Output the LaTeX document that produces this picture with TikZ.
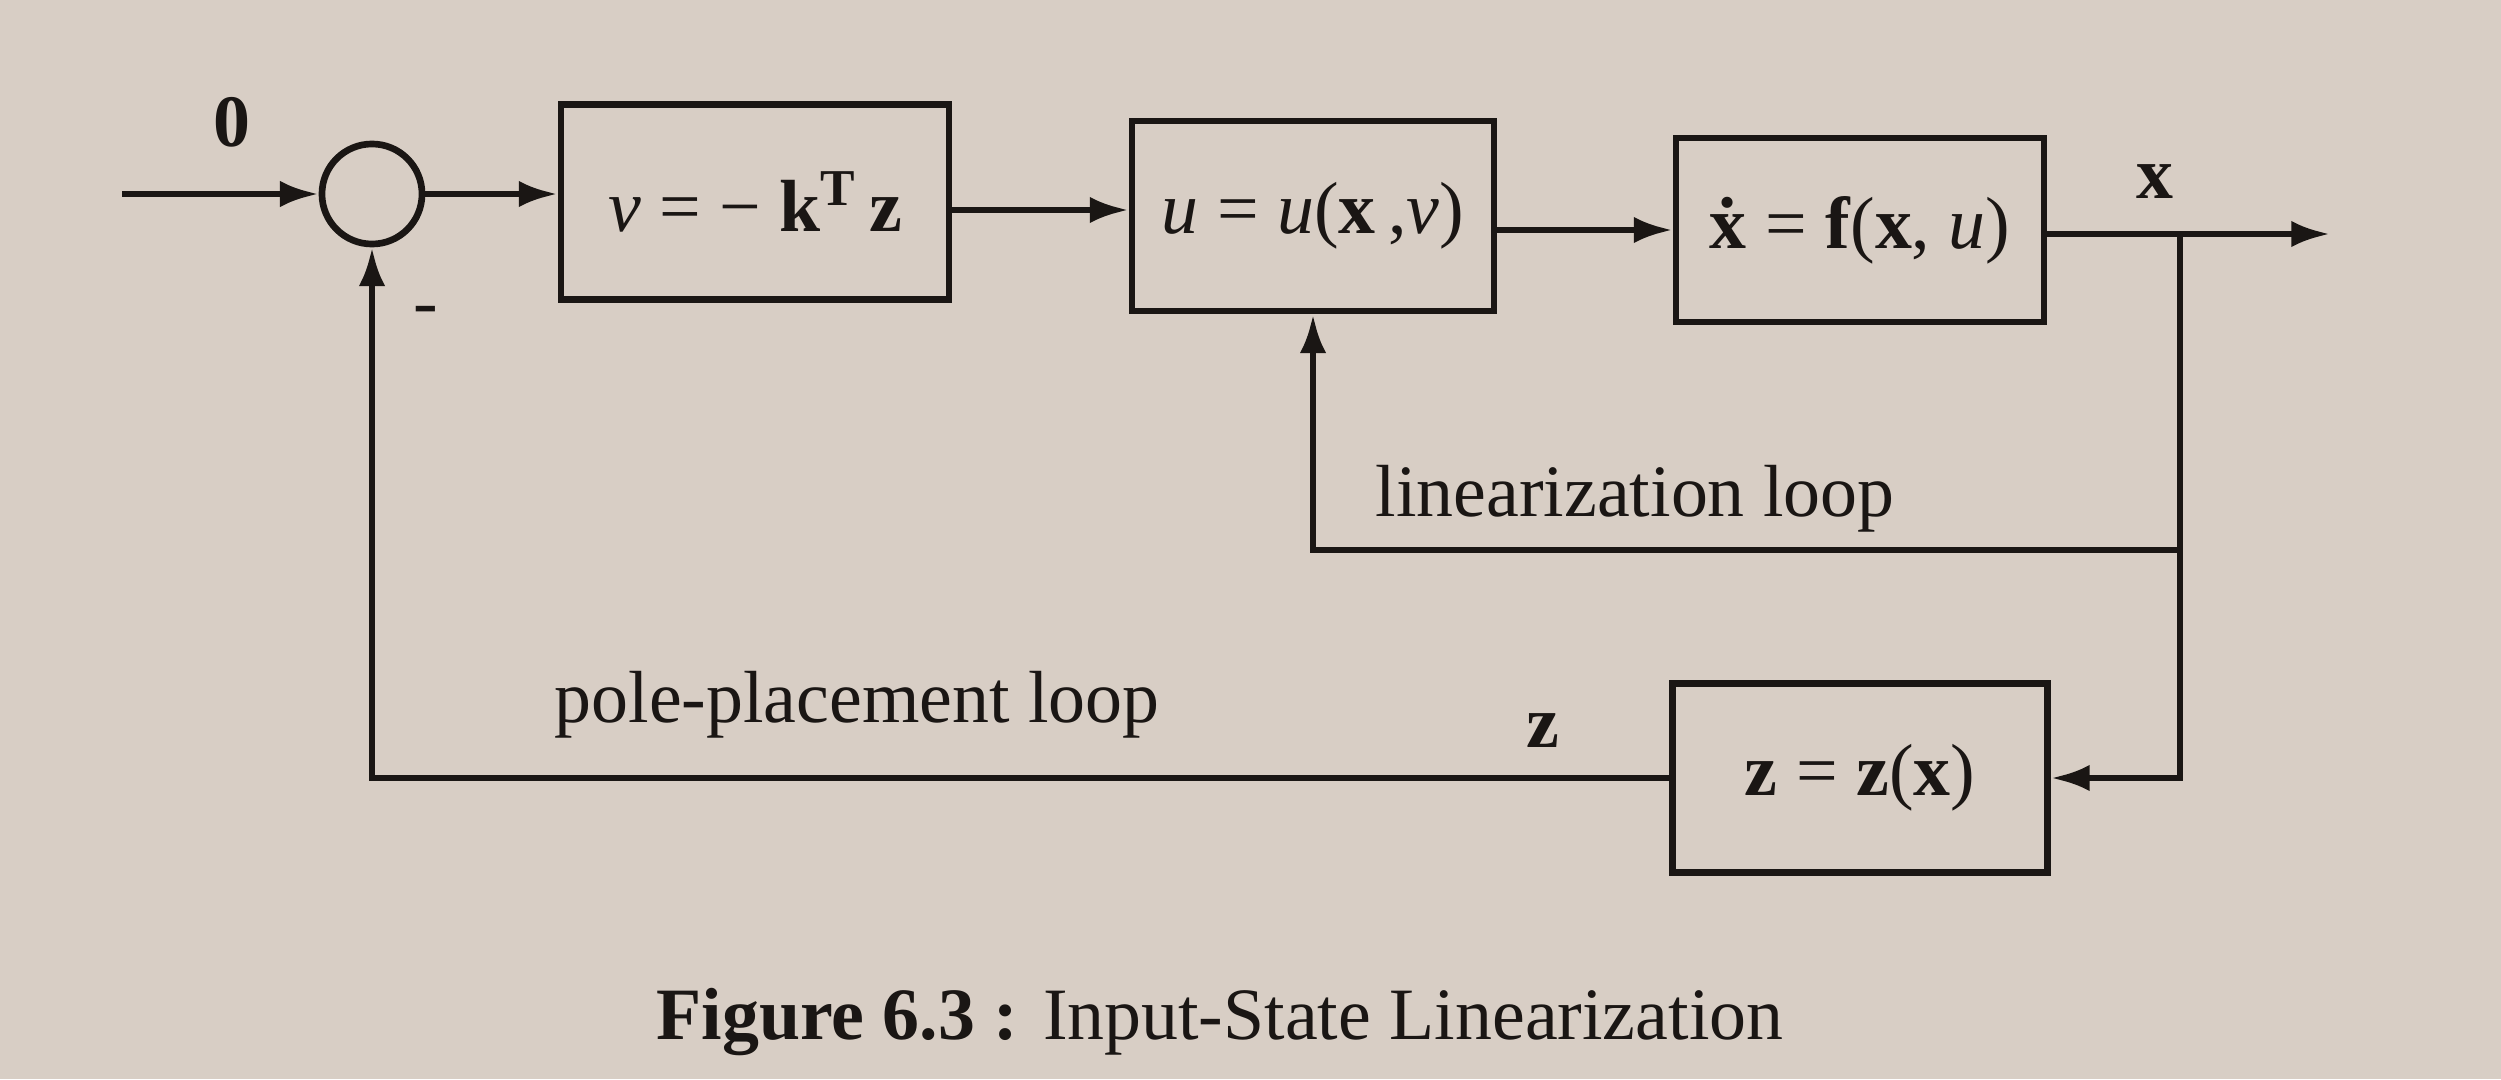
\documentclass[tikz,border=0pt]{standalone}
\usepackage{fontspec}
\setmainfont{Liberation Serif}
\usetikzlibrary{arrows.meta}
\definecolor{paper}{RGB}{216,206,197}
\definecolor{ink}{RGB}{26,22,20}
\begin{document}
\begin{tikzpicture}[x=0.01cm,y=-0.01cm,
  txt/.style={font=\fontsize{21}{25}\selectfont, text=ink, inner sep=0pt},
  blk/.style={draw=ink, line width=1.9pt, inner sep=2pt, font=\fontsize{21}{25}\selectfont, text=ink},
  sumc/.style={circle, draw=ink, line width=1.9pt, minimum size=1cm, inner sep=0pt},
  wire/.style={draw=ink, line width=1.9pt},
  arr/.style={wire, -{Latex[length=11pt,width=7.5pt]}}]
\fill[paper] (0,0) rectangle (2501,1079);
\useasboundingbox (0,0) rectangle (2501,1079);

% blocks
\node[sumc] (sum) at (372,194) {};
\node[blk, minimum width=3.88cm, minimum height=1.95cm] (b1) at (755,202)
  {\textit{v} = − \textbf{k}\textsuperscript{\textbf{T}}\,\textbf{z}};
\node[blk, minimum width=3.62cm, minimum height=1.90cm] (b2) at (1313,216)
  {\textit{u} = \textit{u}(\textbf{x}\,,\textit{v})};
\node[blk, minimum width=3.68cm, minimum height=1.84cm] (b3) at (1860,230)
  {\textbf{\.{x}} = \textbf{f}(\textbf{x}, \textit{u})};
\node[blk, minimum width=3.75cm, minimum height=1.89cm] (b4) at (1860,778)
  {\textbf{z} = \textbf{z}(\textbf{x})};

% free ends and branch points
\coordinate (in) at (122,194);
\coordinate (m12) at (1040,210);
\coordinate (br) at (2180,234);
\coordinate (out) at (2330,234);
\coordinate (lj) at (2180,550);
\coordinate (zc) at (2180,778);

% connectors
\draw[arr] (in) -- (sum.west);
\draw[arr] (sum.east) -- (b1.west |- sum.east);
\draw[arr] (b1.east |- m12) -- (b2.west |- m12);
\draw[arr] (b2.east |- b3.west) -- (b3.west);
\draw[wire] (b3.east |- br) -- (br);
\draw[arr] (br) -- (out);
\draw[arr] (br) -- (zc) -- (b4.east);
\draw[arr] (lj) -| (b2.south);
\draw[arr] (b4.west) -| (sum.south);

% labels
\node[txt, font=\fontsize{21}{25}\selectfont\bfseries] (l0) at (232,122) {0};
\node[txt] (lm) at (426,316) {-};
\node[txt, font=\fontsize{21}{25}\selectfont\bfseries] (lx) at (2155,182) {x};
\node[txt, font=\fontsize{21}{25}\selectfont\bfseries] (lz) at (1543,731) {z};
\node[txt, anchor=base west] (llin) at (1375,516) {linearization loop};
\node[txt, anchor=base west] (lpole) at (554,722) {pole-placement loop};
\node[txt, anchor=base west] (cap) at (656,1039) {\textbf{Figure 6.3 :} Input-State Linearization};
\end{tikzpicture}
\end{document}
